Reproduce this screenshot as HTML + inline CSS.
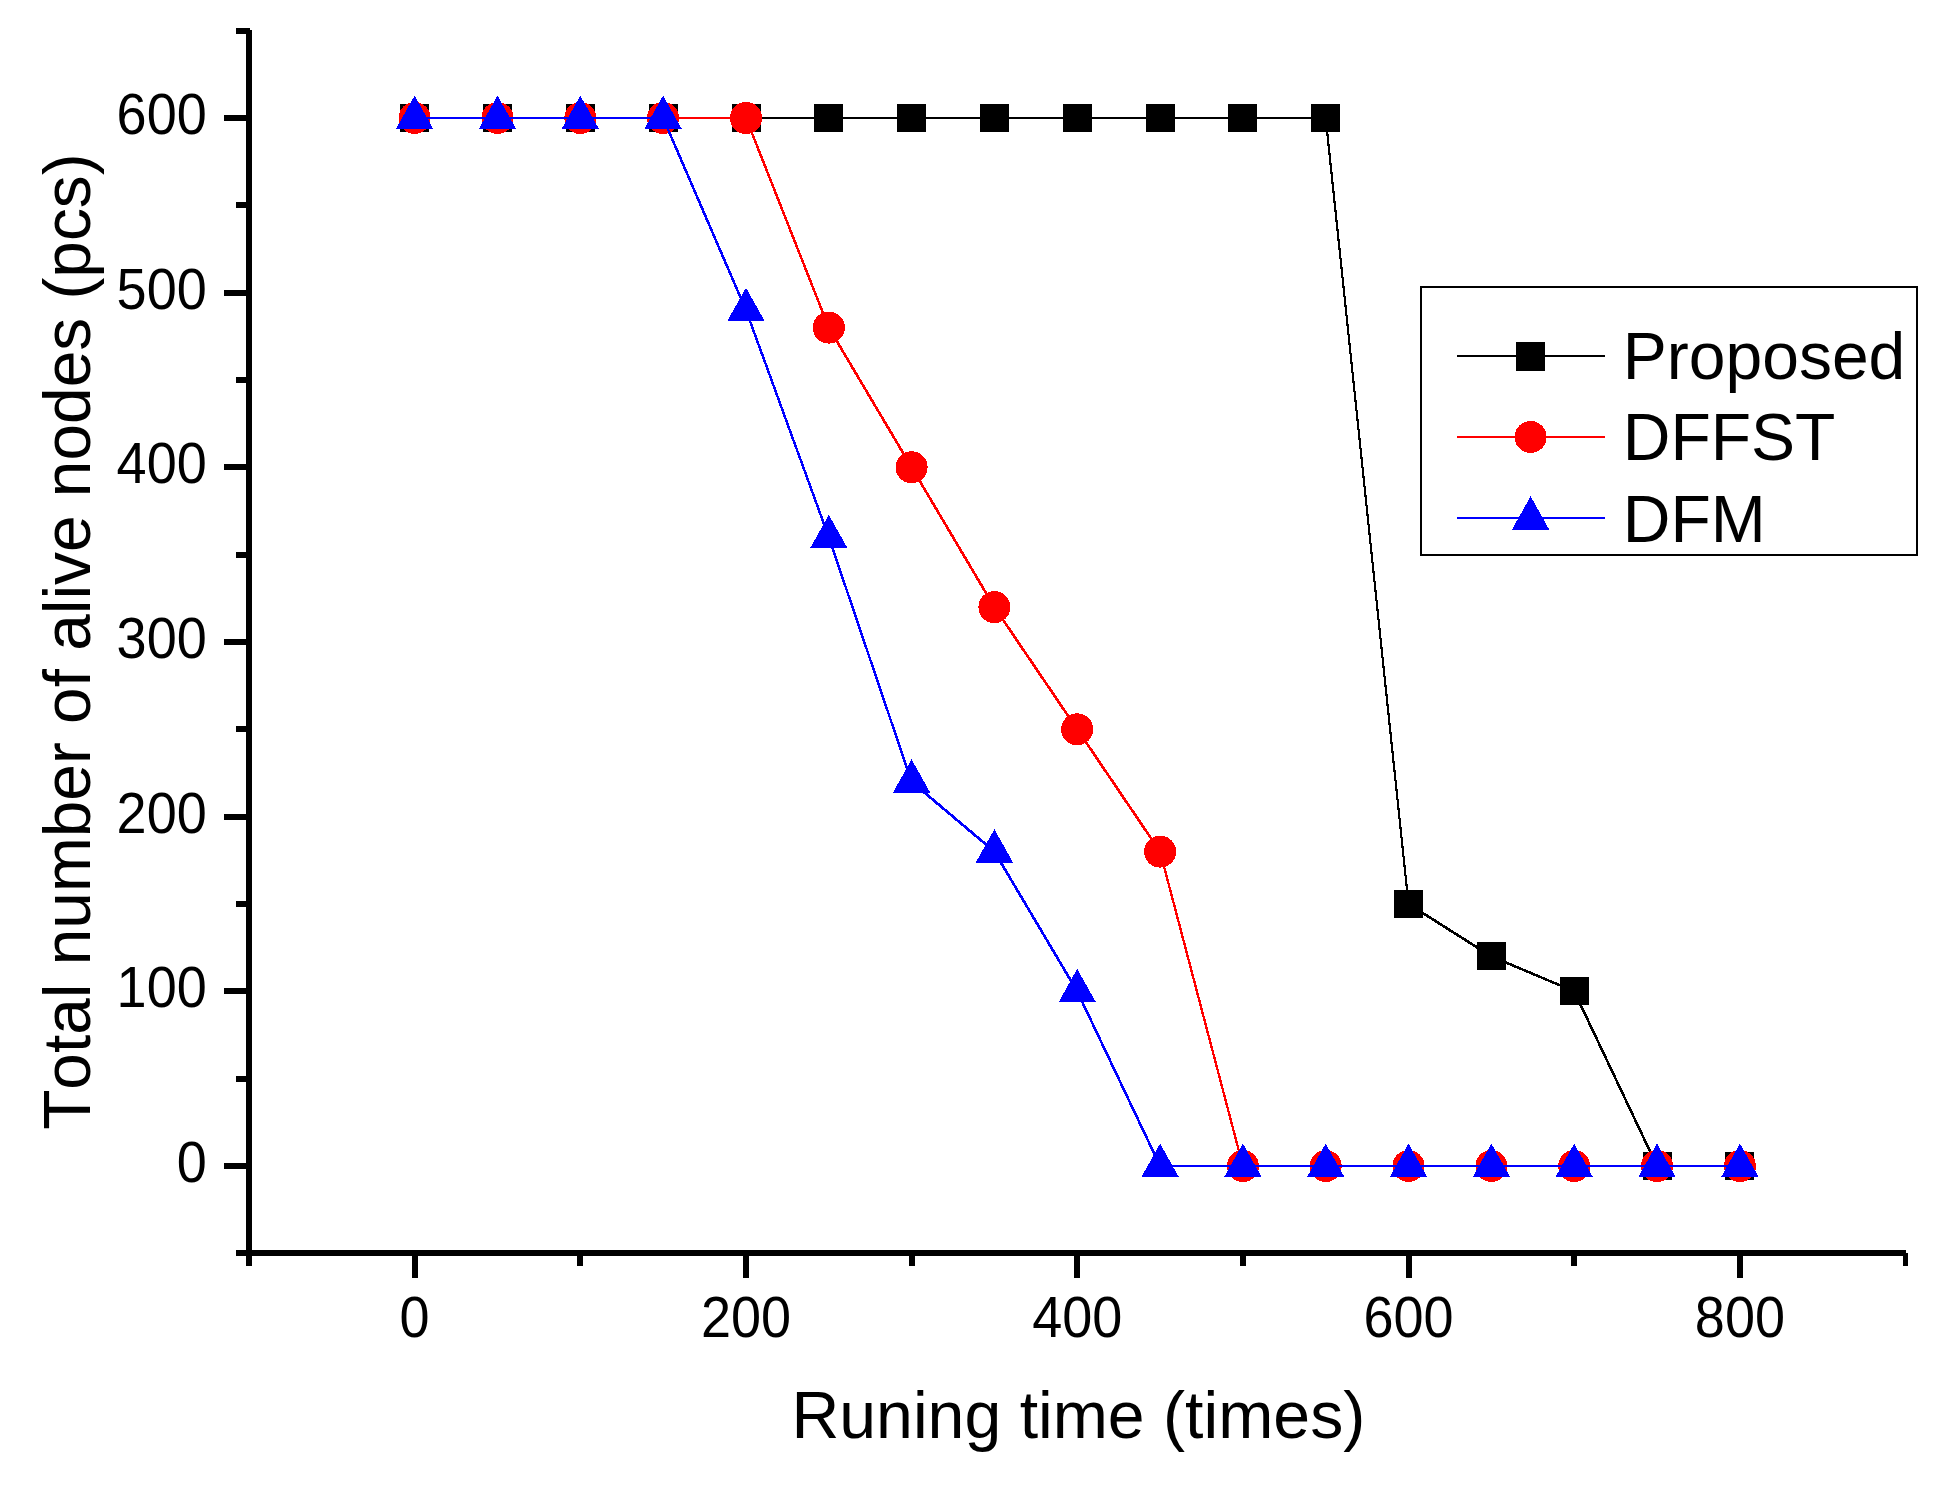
<!DOCTYPE html>
<html lang="en"><head><meta charset="utf-8"><title>Total number of alive nodes vs running time</title>
<style>html,body{margin:0;padding:0;background:#fff}body{width:1945px;height:1486px;overflow:hidden}</style></head>
<body>
<svg width="1945" height="1486" viewBox="0 0 1945 1486" style="display:block">
<rect x="0" y="0" width="1945" height="1486" fill="#fff"/>
<g fill="#000" shape-rendering="crispEdges">
<rect x="246" y="30" width="6" height="1236"/>
<rect x="236" y="1250" width="1670" height="6"/>
<rect x="224" y="1163" width="24" height="6"/>
<rect x="224" y="988" width="24" height="6"/>
<rect x="224" y="814" width="24" height="6"/>
<rect x="224" y="639" width="24" height="6"/>
<rect x="224" y="464" width="24" height="6"/>
<rect x="224" y="290" width="24" height="6"/>
<rect x="224" y="115" width="24" height="6"/>
<rect x="236" y="1076" width="12" height="6"/>
<rect x="236" y="901" width="12" height="6"/>
<rect x="236" y="726" width="12" height="6"/>
<rect x="236" y="552" width="12" height="6"/>
<rect x="236" y="377" width="12" height="6"/>
<rect x="236" y="202" width="12" height="6"/>
<rect x="236" y="28" width="14" height="6"/>
<rect x="412" y="1254" width="6" height="24"/>
<rect x="743" y="1254" width="6" height="24"/>
<rect x="1074" y="1254" width="6" height="24"/>
<rect x="1406" y="1254" width="6" height="24"/>
<rect x="1737" y="1254" width="6" height="24"/>
<rect x="577" y="1254" width="6" height="12"/>
<rect x="909" y="1254" width="6" height="12"/>
<rect x="1240" y="1254" width="6" height="12"/>
<rect x="1571" y="1254" width="6" height="12"/>
<rect x="1903" y="1253" width="5" height="13"/>
</g>
<g font-family="Liberation Sans, Arial, Helvetica, sans-serif" style="font-kerning:none" font-size="54" fill="#000">
<text transform="translate(206.7,1181.8) scale(1,1.05)" text-anchor="end">0</text>
<text transform="translate(206.7,1007.1) scale(1,1.05)" text-anchor="end">100</text>
<text transform="translate(206.7,832.5) scale(1,1.05)" text-anchor="end">200</text>
<text transform="translate(206.7,657.8) scale(1,1.05)" text-anchor="end">300</text>
<text transform="translate(206.7,483.1) scale(1,1.05)" text-anchor="end">400</text>
<text transform="translate(206.7,308.5) scale(1,1.05)" text-anchor="end">500</text>
<text transform="translate(206.7,133.8) scale(1,1.05)" text-anchor="end">600</text>
<text transform="translate(414.6,1336.6) scale(1,1.05)" text-anchor="middle">0</text>
<text transform="translate(746.0,1336.6) scale(1,1.05)" text-anchor="middle">200</text>
<text transform="translate(1077.2,1336.6) scale(1,1.05)" text-anchor="middle">400</text>
<text transform="translate(1408.5,1336.6) scale(1,1.05)" text-anchor="middle">600</text>
<text transform="translate(1739.9,1336.6) scale(1,1.05)" text-anchor="middle">800</text>
</g>
<text font-family="Liberation Sans, Arial, Helvetica, sans-serif" style="font-kerning:none" font-size="66.2" x="1078.4" y="1437.8" text-anchor="middle" fill="#000">Runing time (times)</text>
<text font-family="Liberation Sans, Arial, Helvetica, sans-serif" style="font-kerning:none" font-size="65.8" transform="translate(90,641.6) rotate(-90)" text-anchor="middle" fill="#000">Total number of alive nodes (pcs)</text>
<g fill="none" stroke="#000" shape-rendering="crispEdges">
<line x1="414.6" y1="118.0" x2="497.5" y2="118.0" stroke-width="2.0"/>
<line x1="497.5" y1="118.0" x2="580.3" y2="118.0" stroke-width="2.0"/>
<line x1="580.3" y1="118.0" x2="663.1" y2="118.0" stroke-width="2.0"/>
<line x1="663.1" y1="118.0" x2="746.0" y2="118.0" stroke-width="2.0"/>
<line x1="746.0" y1="118.0" x2="828.8" y2="118.0" stroke-width="2.0"/>
<line x1="828.8" y1="118.0" x2="911.6" y2="118.0" stroke-width="2.0"/>
<line x1="911.6" y1="118.0" x2="994.4" y2="118.0" stroke-width="2.0"/>
<line x1="994.4" y1="118.0" x2="1077.2" y2="118.0" stroke-width="2.0"/>
<line x1="1077.2" y1="118.0" x2="1160.1" y2="118.0" stroke-width="2.0"/>
<line x1="1160.1" y1="118.0" x2="1242.9" y2="118.0" stroke-width="2.0"/>
<line x1="1242.9" y1="118.0" x2="1325.7" y2="118.0" stroke-width="2.0"/>
<line x1="1325.7" y1="118.0" x2="1408.5" y2="904.0" stroke-width="2.16"/>
<line x1="1408.5" y1="904.0" x2="1491.4" y2="956.4" stroke-width="2.68"/>
<line x1="1491.4" y1="956.4" x2="1574.2" y2="991.3" stroke-width="2.54"/>
<line x1="1574.2" y1="991.3" x2="1657.0" y2="1166.0" stroke-width="2.58"/>
<line x1="1657.0" y1="1166.0" x2="1739.9" y2="1166.0" stroke-width="2.0"/>
</g>
<g fill="#000">
<rect x="400" y="104" width="29" height="28" shape-rendering="crispEdges"/>
<rect x="483" y="104" width="29" height="28" shape-rendering="crispEdges"/>
<rect x="566" y="104" width="29" height="28" shape-rendering="crispEdges"/>
<rect x="649" y="104" width="29" height="28" shape-rendering="crispEdges"/>
<rect x="732" y="104" width="29" height="28" shape-rendering="crispEdges"/>
<rect x="814" y="104" width="29" height="28" shape-rendering="crispEdges"/>
<rect x="897" y="104" width="29" height="28" shape-rendering="crispEdges"/>
<rect x="980" y="104" width="29" height="28" shape-rendering="crispEdges"/>
<rect x="1063" y="104" width="29" height="28" shape-rendering="crispEdges"/>
<rect x="1146" y="104" width="29" height="28" shape-rendering="crispEdges"/>
<rect x="1228" y="104" width="29" height="28" shape-rendering="crispEdges"/>
<rect x="1311" y="104" width="29" height="28" shape-rendering="crispEdges"/>
<rect x="1394" y="890" width="29" height="28" shape-rendering="crispEdges"/>
<rect x="1477" y="942" width="29" height="28" shape-rendering="crispEdges"/>
<rect x="1560" y="977" width="29" height="28" shape-rendering="crispEdges"/>
<rect x="1643" y="1152" width="29" height="28" shape-rendering="crispEdges"/>
<rect x="1725" y="1152" width="29" height="28" shape-rendering="crispEdges"/>
</g>
<g fill="none" stroke="#f00" shape-rendering="crispEdges">
<line x1="414.6" y1="118.0" x2="497.5" y2="118.0" stroke-width="2.0"/>
<line x1="497.5" y1="118.0" x2="580.3" y2="118.0" stroke-width="2.0"/>
<line x1="580.3" y1="118.0" x2="663.1" y2="118.0" stroke-width="2.0"/>
<line x1="663.1" y1="118.0" x2="746.0" y2="118.0" stroke-width="2.0"/>
<line x1="746.0" y1="118.0" x2="828.8" y2="327.6" stroke-width="2.51"/>
<line x1="828.8" y1="327.6" x2="911.6" y2="467.3" stroke-width="2.66"/>
<line x1="911.6" y1="467.3" x2="994.4" y2="607.1" stroke-width="2.66"/>
<line x1="994.4" y1="607.1" x2="1077.2" y2="729.3" stroke-width="2.7"/>
<line x1="1077.2" y1="729.3" x2="1160.1" y2="851.6" stroke-width="2.7"/>
<line x1="1160.1" y1="851.6" x2="1242.9" y2="1166.0" stroke-width="2.37"/>
<line x1="1242.9" y1="1166.0" x2="1325.7" y2="1166.0" stroke-width="2.0"/>
<line x1="1325.7" y1="1166.0" x2="1408.5" y2="1166.0" stroke-width="2.0"/>
<line x1="1408.5" y1="1166.0" x2="1491.4" y2="1166.0" stroke-width="2.0"/>
<line x1="1491.4" y1="1166.0" x2="1574.2" y2="1166.0" stroke-width="2.0"/>
<line x1="1574.2" y1="1166.0" x2="1657.0" y2="1166.0" stroke-width="2.0"/>
<line x1="1657.0" y1="1166.0" x2="1739.9" y2="1166.0" stroke-width="2.0"/>
</g>
<g fill="#f00">
<circle cx="414.6" cy="118.0" r="16" shape-rendering="crispEdges"/>
<circle cx="497.5" cy="118.0" r="16" shape-rendering="crispEdges"/>
<circle cx="580.3" cy="118.0" r="16" shape-rendering="crispEdges"/>
<circle cx="663.1" cy="118.0" r="16" shape-rendering="crispEdges"/>
<circle cx="746.0" cy="118.0" r="16" shape-rendering="crispEdges"/>
<circle cx="828.8" cy="327.6" r="16" shape-rendering="crispEdges"/>
<circle cx="911.6" cy="467.3" r="16" shape-rendering="crispEdges"/>
<circle cx="994.4" cy="607.1" r="16" shape-rendering="crispEdges"/>
<circle cx="1077.2" cy="729.3" r="16" shape-rendering="crispEdges"/>
<circle cx="1160.1" cy="851.6" r="16" shape-rendering="crispEdges"/>
<circle cx="1242.9" cy="1166.0" r="16" shape-rendering="crispEdges"/>
<circle cx="1325.7" cy="1166.0" r="16" shape-rendering="crispEdges"/>
<circle cx="1408.5" cy="1166.0" r="16" shape-rendering="crispEdges"/>
<circle cx="1491.4" cy="1166.0" r="16" shape-rendering="crispEdges"/>
<circle cx="1574.2" cy="1166.0" r="16" shape-rendering="crispEdges"/>
<circle cx="1657.0" cy="1166.0" r="16" shape-rendering="crispEdges"/>
<circle cx="1739.9" cy="1166.0" r="16" shape-rendering="crispEdges"/>
</g>
<g fill="none" stroke="#00f" shape-rendering="crispEdges">
<line x1="414.6" y1="118.0" x2="497.5" y2="118.0" stroke-width="2.0"/>
<line x1="497.5" y1="118.0" x2="580.3" y2="118.0" stroke-width="2.0"/>
<line x1="580.3" y1="118.0" x2="663.1" y2="118.0" stroke-width="2.0"/>
<line x1="663.1" y1="118.0" x2="746.0" y2="310.1" stroke-width="2.55"/>
<line x1="746.0" y1="310.1" x2="828.8" y2="537.2" stroke-width="2.48"/>
<line x1="828.8" y1="537.2" x2="911.6" y2="781.7" stroke-width="2.46"/>
<line x1="911.6" y1="781.7" x2="994.4" y2="851.6" stroke-width="2.74"/>
<line x1="994.4" y1="851.6" x2="1077.2" y2="991.3" stroke-width="2.66"/>
<line x1="1077.2" y1="991.3" x2="1160.1" y2="1166.0" stroke-width="2.58"/>
<line x1="1160.1" y1="1166.0" x2="1242.9" y2="1166.0" stroke-width="2.0"/>
<line x1="1242.9" y1="1166.0" x2="1325.7" y2="1166.0" stroke-width="2.0"/>
<line x1="1325.7" y1="1166.0" x2="1408.5" y2="1166.0" stroke-width="2.0"/>
<line x1="1408.5" y1="1166.0" x2="1491.4" y2="1166.0" stroke-width="2.0"/>
<line x1="1491.4" y1="1166.0" x2="1574.2" y2="1166.0" stroke-width="2.0"/>
<line x1="1574.2" y1="1166.0" x2="1657.0" y2="1166.0" stroke-width="2.0"/>
<line x1="1657.0" y1="1166.0" x2="1739.9" y2="1166.0" stroke-width="2.0"/>
</g>
<g fill="#00f">
<polygon points="414.6,95.6 395.9,129.0 433.3,129.0" shape-rendering="crispEdges"/>
<polygon points="497.5,95.6 478.8,129.0 516.2,129.0" shape-rendering="crispEdges"/>
<polygon points="580.3,95.6 561.6,129.0 599.0,129.0" shape-rendering="crispEdges"/>
<polygon points="663.1,95.6 644.4,129.0 681.8,129.0" shape-rendering="crispEdges"/>
<polygon points="746.0,287.7 727.2,321.1 764.7,321.1" shape-rendering="crispEdges"/>
<polygon points="828.8,514.8 810.1,548.2 847.5,548.2" shape-rendering="crispEdges"/>
<polygon points="911.6,759.3 892.9,792.7 930.3,792.7" shape-rendering="crispEdges"/>
<polygon points="994.4,829.2 975.7,862.6 1013.1,862.6" shape-rendering="crispEdges"/>
<polygon points="1077.2,968.9 1058.5,1002.3 1096.0,1002.3" shape-rendering="crispEdges"/>
<polygon points="1160.1,1143.6 1141.4,1177.0 1178.8,1177.0" shape-rendering="crispEdges"/>
<polygon points="1242.9,1143.6 1224.2,1177.0 1261.6,1177.0" shape-rendering="crispEdges"/>
<polygon points="1325.7,1143.6 1307.0,1177.0 1344.4,1177.0" shape-rendering="crispEdges"/>
<polygon points="1408.5,1143.6 1389.8,1177.0 1427.2,1177.0" shape-rendering="crispEdges"/>
<polygon points="1491.4,1143.6 1472.7,1177.0 1510.1,1177.0" shape-rendering="crispEdges"/>
<polygon points="1574.2,1143.6 1555.5,1177.0 1592.9,1177.0" shape-rendering="crispEdges"/>
<polygon points="1657.0,1143.6 1638.3,1177.0 1675.7,1177.0" shape-rendering="crispEdges"/>
<polygon points="1739.9,1143.6 1721.2,1177.0 1758.6,1177.0" shape-rendering="crispEdges"/>
</g>
<rect x="1421" y="287" width="496" height="268" fill="#fff" stroke="#000" stroke-width="2" shape-rendering="crispEdges"/>
<rect x="1457" y="355" width="148" height="2" fill="#000" shape-rendering="crispEdges"/>
<g fill="#000">
<rect x="1516" y="342" width="29" height="29" shape-rendering="crispEdges"/>
</g>
<text font-family="Liberation Sans, Arial, Helvetica, sans-serif" style="font-kerning:none" font-size="66" x="1622.8" y="379" fill="#000">Proposed</text>
<rect x="1457" y="436" width="148" height="2" fill="#f00" shape-rendering="crispEdges"/>
<g fill="#f00">
<circle cx="1530.6" cy="437.0" r="16" shape-rendering="crispEdges"/>
</g>
<text font-family="Liberation Sans, Arial, Helvetica, sans-serif" style="font-kerning:none" font-size="66" x="1622.8" y="460" fill="#000">DFFST</text>
<rect x="1457" y="517" width="148" height="2" fill="#00f" shape-rendering="crispEdges"/>
<g fill="#00f">
<polygon points="1530.6,496.3 1511.9,529.7 1549.3,529.7" shape-rendering="crispEdges"/>
</g>
<text font-family="Liberation Sans, Arial, Helvetica, sans-serif" style="font-kerning:none" font-size="66" x="1622.8" y="541.5" fill="#000">DFM</text>
</svg>
</body></html>
